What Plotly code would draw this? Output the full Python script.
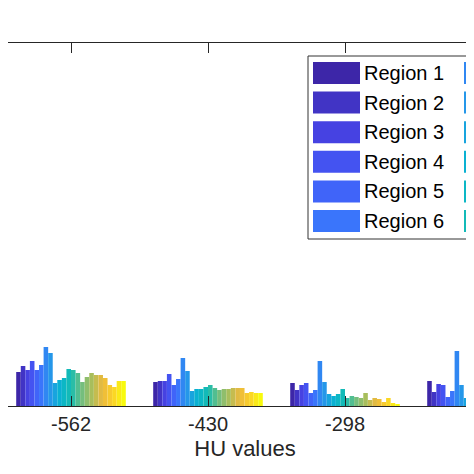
import plotly.graph_objects as go

hu_ticks = [-694, -562, -430, -298, -166]
tick_labels = ["-694", "-562", "-430", "-298", "-166"]
group_x = [-562, -430, -298, -166]
regions = [f"Region {i}" for i in range(1, 25)]
# heights per group (arbitrary units), rows = HU groups, columns = regions
g1 = [34, 40, 36, 45, 36, 41, 59, 53, 23, 26, 28, 37, 36, 33, 24, 29, 33, 31, 31, 28, 21, 19, 25, 25]
g2 = [24, 25, 25, 32, 21, 27, 48, 35, 15, 17, 17, 19, 21, 18, 16, 17, 17, 18, 18, 18, 13, 14, 13, 13]
g3 = [23, 16, 21, 23, 13, 16, 45, 24, 12, 10, 12, 17, 8, 10, 9, 8, 13, 6, 8, 7, 4, 8, 3, 2]
g4 = [25, 14, 22, 21, 9, 15, 55, 21, 8, 9, 7, 6, 5, 6, 5, 4, 5, 4, 3, 4, 3, 3, 2, 2]
groups = [g1, g2, g3, g4]

parula = [(0.2422,0.1504,0.6603),(0.2803,0.2782,0.9221),(0.2440,0.4358,0.9988),
          (0.1540,0.5902,0.9218),(0.0297,0.7082,0.8163),(0.0900,0.7400,0.7000),
          (0.4420,0.7481,0.5033),(0.6720,0.7467,0.3560),(0.9290,0.7260,0.2400),
          (0.9860,0.8250,0.1550),(0.9763,0.9831,0.0538)]
def pcol(t):
    p = t*10; i = min(int(p), 9); f = p - i
    c = [parula[i][k]*(1-f)+parula[i+1][k]*f for k in range(3)]
    return "rgb(%d,%d,%d)" % tuple(int(v*255) for v in c)
colors = [pcol(i/23) for i in range(24)]

fig = go.Figure()
for r in range(24):
    fig.add_trace(go.Bar(x=group_x, y=[g[r] for g in groups], name=regions[r],
                         marker=dict(color=colors[r], line=dict(width=0)), showlegend=False))

W, T, B = 474, 35, 76
PH = 474 - T - B
def px(x): return x / W
def py(y): return (474 - B - y) / PH
shapes = [dict(type="rect", xref="paper", yref="paper", x0=px(300), x1=px(620), y0=py(48), y1=py(231),
               line=dict(color="#333", width=1), fillcolor="white")]
ann = []
for r in range(24):
    col, row = r // 6, r % 6
    x0 = 305 + col * 151
    yc = 65 + row * 29.6
    shapes.append(dict(type="rect", xref="paper", yref="paper", x0=px(x0), x1=px(x0 + 47),
                       y0=py(yc + 11), y1=py(yc - 11), line=dict(width=0), fillcolor=colors[r]))
    if col == 0:
        ann.append(dict(xref="paper", yref="paper", x=px(x0 + 49), y=py(yc), text=regions[r],
                        showarrow=False, xanchor="left", yanchor="middle",
                        font=dict(size=20, color="black", family="Liberation Sans, Arial")))

fig.update_layout(width=474, height=474, margin=dict(l=0, r=0, t=T, b=B, autoexpand=False),
                  barmode="group", bargap=0.2, bargroupgap=0,
                  plot_bgcolor="white", paper_bgcolor="white",
                  font=dict(family="Liberation Sans, Arial", size=20, color="#262626"),
                  shapes=shapes, annotations=ann)
fig.update_xaxes(range=[-622.7, -166], tickvals=hu_ticks, ticktext=tick_labels, automargin=False,
                 ticks="inside", ticklen=10, tickcolor="#262626", showline=True, linecolor="#262626",
                 mirror="ticks", showgrid=False, zeroline=False,
                 title=dict(text="HU values", font=dict(size=22), standoff=6))
fig.update_yaxes(range=[0, PH], visible=False, automargin=False)
fig.write_html("out.html")
